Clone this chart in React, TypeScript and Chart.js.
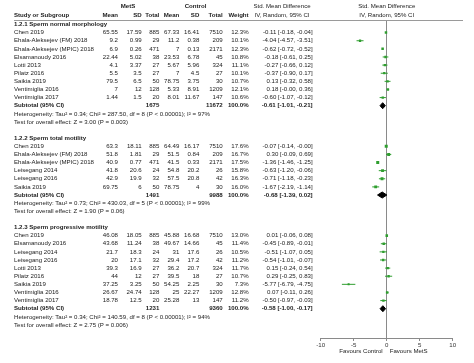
import { useEffect, useRef } from 'react';
import { Chart, registerables } from 'chart.js';

Chart.register(...registerables);

// ---------------- DATA ----------------
const groupTitles = [
  '1.2.1 Sperm normal morphology',
  '1.2.2 Sperm total motility',
  '1.2.3 Sperm progressive motility',
];

// 1.2.1 Sperm normal morphology
const morphStudies = ['Chen 2019', 'Ehala-Aleksejev (FM) 2018', 'Ehala-Aleksejev (MPIC) 2018', 'Elsamanoudy 2016', 'Lotti 2013', 'Pilatz 2016', 'Saikia 2019', 'Ventimiglia 2016', 'Ventimiglia 2017'];
const morphMetsMean = [65.55, 9.2, 6.9, 22.44, 4.1, 5.5, 79.5, 7, 1.44];
const morphMetsSD = [17.59, 0.99, 0.26, 5.02, 3.37, 3.5, 6.5, 12, 1.5];
const morphMetsN = [885, 29, 471, 38, 27, 27, 50, 128, 20];
const morphCtrlMean = [67.33, 11.2, 7, 23.53, 5.67, 7, 78.75, 5.33, 8.01];
const morphCtrlSD = [16.41, 0.38, 0.13, 6.78, 5.96, 4.5, 3.75, 8.91, 11.67];
const morphCtrlN = [7510, 209, 2171, 45, 324, 27, 30, 1209, 147];
const morphWeight = [12.3, 10.1, 12.3, 10.8, 11.1, 10.1, 10.7, 12.1, 10.6];
const morphSmd = [-0.11, -4.04, -0.62, -0.18, -0.27, -0.37, 0.13, 0.18, -0.6];
const morphLo = [-0.18, -4.57, -0.72, -0.61, -0.66, -0.9, -0.32, -0.0, -1.07];
const morphHi = [-0.04, -3.51, -0.52, 0.25, 0.12, 0.17, 0.58, 0.36, -0.12];

// 1.2.2 Sperm total motility
const totStudies = ['Chen 2019', 'Ehala-Aleksejev (FM) 2018', 'Ehala-Aleksejev (MPIC) 2018', 'Leisegang 2014', 'Leisegang 2016', 'Saikia 2019'];
const totMetsMean = [63.3, 51.8, 40.9, 41.8, 42.9, 69.75];
const totMetsSD = [18.11, 1.81, 0.77, 20.6, 19.9, 6];
const totMetsN = [885, 29, 471, 24, 32, 50];
const totCtrlMean = [64.49, 51.5, 41.5, 54.8, 57.5, 78.75];
const totCtrlSD = [16.17, 0.84, 0.33, 20.2, 20.8, 4];
const totCtrlN = [7510, 209, 2171, 26, 42, 30];
const totWeight = [17.6, 16.7, 17.5, 15.8, 16.3, 16.0];
const totSmd = [-0.07, 0.3, -1.36, -0.63, -0.71, -1.67];
const totLo = [-0.14, -0.09, -1.46, -1.2, -1.18, -2.19];
const totHi = [-0.0, 0.69, -1.25, -0.06, -0.23, -1.14];

// 1.2.3 Sperm progressive motility
const progStudies = ['Chen 2019', 'Elsamanoudy 2016', 'Leisegang 2014', 'Leisegang 2016', 'Lotti 2013', 'Pilatz 2016', 'Saikia 2019', 'Ventimiglia 2016', 'Ventimiglia 2017'];
const progMetsMean = [46.08, 43.68, 21.7, 20, 39.3, 44, 37.25, 26.67, 18.78];
const progMetsSD = [18.05, 11.24, 18.3, 17.1, 16.9, 12, 3.25, 24.74, 12.5];
const progMetsN = [885, 38, 24, 32, 27, 27, 50, 128, 20];
const progCtrlMean = [45.88, 49.67, 31, 29.4, 36.2, 39.5, 54.25, 25, 25.28];
const progCtrlSD = [16.68, 14.66, 17.6, 17.2, 20.7, 18, 2.25, 22.27, 13];
const progCtrlN = [7510, 45, 26, 42, 324, 27, 30, 1209, 147];
const progWeight = [13.0, 11.4, 10.5, 11.2, 11.7, 10.7, 7.3, 12.8, 11.2];
const progSmd = [0.01, -0.45, -0.51, -0.54, 0.15, 0.29, -5.77, 0.07, -0.5];
const progLo = [-0.06, -0.89, -1.07, -1.01, -0.24, -0.25, -6.79, -0.11, -0.97];
const progHi = [0.08, -0.01, 0.05, -0.07, 0.54, 0.83, -4.75, 0.26, -0.03];

// Subtotals and statistics per subgroup
const subMetsN = [1675, 1491, 1231];
const subCtrlN = [11672, 9988, 9360];
const subSmd = [-0.61, -0.68, -0.58];
const subLo = [-1.01, -1.39, -1.0];
const subHi = [-0.21, 0.02, -0.17];
const hetTau2 = [0.34, 0.73, 0.34];
const hetChi2 = [287.5, 430.03, 140.59];
const hetDf = [8, 5, 8];
const hetI2 = [97, 99, 94];
const testZ = [3.0, 1.9, 2.75];
const testP = ['0.003', '0.06', '0.006'];

const xMin = -10;
const xMax = 10;
const xStep = 5;

// ---------------- BUILD ----------------
const groups = [
  { studies: morphStudies, mM: morphMetsMean, mS: morphMetsSD, mN: morphMetsN, cM: morphCtrlMean, cS: morphCtrlSD, cN: morphCtrlN, w: morphWeight, e: morphSmd, lo: morphLo, hi: morphHi },
  { studies: totStudies, mM: totMetsMean, mS: totMetsSD, mN: totMetsN, cM: totCtrlMean, cS: totCtrlSD, cN: totCtrlN, w: totWeight, e: totSmd, lo: totLo, hi: totHi },
  { studies: progStudies, mM: progMetsMean, mS: progMetsSD, mN: progMetsN, cM: progCtrlMean, cS: progCtrlSD, cN: progCtrlN, w: progWeight, e: progSmd, lo: progLo, hi: progHi },
];

type Row = { r: number; kind: 'title' | 'study' | 'subtotal' | 'het' | 'test'; g: number; i: number };
const rows: Row[] = [];
{
  let r = 0;
  groups.forEach((grp, g) => {
    rows.push({ r: r++, kind: 'title', g, i: -1 });
    grp.studies.forEach((_, i) => rows.push({ r: r++, kind: 'study', g, i }));
    rows.push({ r: r++, kind: 'subtotal', g, i: -1 });
    rows.push({ r: r++, kind: 'het', g, i: -1 });
    rows.push({ r: r++, kind: 'test', g, i: -1 });
    r++;
  });
}

const fmt = (v: number) => (v < 0 || Object.is(v, -0) ? '-' : '') + Math.abs(v).toFixed(2);
const ciText = (e: number, l: number, h: number) => `${fmt(e)} [${fmt(l)}, ${fmt(h)}]`;

// ---------------- STYLE ----------------
const FONT = '"Liberation Sans", Arial, sans-serif';
const FS = 6.1;
const TEXT = '#222';
const GREEN = '#2f9e2f';
const AXIS = '#8a8a8a';
const DIAMOND_HALF = 0.37; // in row units
const COL = { study: 14, mMean: 118, mSD: 141.7, mN: 159.3, cMean: 179.3, cSD: 199.3, cN: 222.7, weight: 248.6, ci: 312.6, ciHead: 282 };

const textPlugin = {
  id: 'forestText',
  afterDraw(chart: any) {
    const ctx: CanvasRenderingContext2D = chart.ctx;
    const ys = chart.scales.y;
    const xs = chart.scales.x;
    const ca = chart.chartArea;
    const x0 = xs.getPixelForValue(0);
    ctx.save();
    ctx.fillStyle = TEXT;
    ctx.textBaseline = 'middle';
    const put = (s: string, px: number, py: number, align: CanvasTextAlign, bold = false) => {
      ctx.font = `${bold ? 'bold ' : ''}${FS}px ${FONT}`;
      ctx.textAlign = align;
      ctx.fillText(s, px, py);
    };
    const h1 = ca.top - 13.5;
    const h2 = ca.top - 5;
    put('MetS', 128, h1, 'center', true);
    put('Control', 195.5, h1, 'center', true);
    put('Std. Mean Difference', COL.ciHead, h1, 'center');
    put('Std. Mean Difference', x0, h1, 'center');
    put('Study or Subgroup', COL.study, h2, 'left', true);
    put('Mean', COL.mMean, h2, 'right', true);
    put('SD', COL.mSD, h2, 'right', true);
    put('Total', COL.mN, h2, 'right', true);
    put('Mean', COL.cMean, h2, 'right', true);
    put('SD', COL.cSD, h2, 'right', true);
    put('Total', COL.cN, h2, 'right', true);
    put('Weight', COL.weight, h2, 'right', true);
    put('IV, Random, 95% CI', COL.ciHead, h2, 'center');
    put('IV, Random, 95% CI', x0, h2, 'center');

    ctx.strokeStyle = '#9a9a9a';
    ctx.lineWidth = 1.2;
    ctx.beginPath();
    ctx.moveTo(COL.study, ca.top + 0.5);
    ctx.lineTo(463, ca.top + 0.5);
    ctx.stroke();

    rows.forEach((row) => {
      const py = ys.getPixelForValue(row.r);
      const grp = groups[row.g];
      const g = row.g;
      if (row.kind === 'title') {
        put(groupTitles[g], COL.study, py, 'left', true);
      } else if (row.kind === 'study') {
        const i = row.i;
        put(grp.studies[i], COL.study, py, 'left');
        put(String(grp.mM[i]), COL.mMean, py, 'right');
        put(String(grp.mS[i]), COL.mSD, py, 'right');
        put(String(grp.mN[i]), COL.mN, py, 'right');
        put(String(grp.cM[i]), COL.cMean, py, 'right');
        put(String(grp.cS[i]), COL.cSD, py, 'right');
        put(String(grp.cN[i]), COL.cN, py, 'right');
        put(grp.w[i].toFixed(1) + '%', COL.weight, py, 'right');
        put(ciText(grp.e[i], grp.lo[i], grp.hi[i]), COL.ci, py, 'right');
      } else if (row.kind === 'subtotal') {
        put('Subtotal (95% CI)', COL.study, py, 'left', true);
        put(String(subMetsN[g]), COL.mN, py, 'right', true);
        put(String(subCtrlN[g]), COL.cN, py, 'right', true);
        put('100.0%', COL.weight, py, 'right', true);
        put(ciText(subSmd[g], subLo[g], subHi[g]), COL.ci, py, 'right', true);
      } else if (row.kind === 'het') {
        put(`Heterogeneity: Tau² = ${hetTau2[g].toFixed(2)}; Chi² = ${hetChi2[g].toFixed(2)}, df = ${hetDf[g]} (P < 0.00001); I² = ${hetI2[g]}%`, COL.study, py, 'left');
      } else {
        put(`Test for overall effect: Z = ${testZ[g].toFixed(2)} (P = ${testP[g]})`, COL.study, py, 'left');
      }
    });

    const fy = ca.bottom + 13.7;
    put('Favours Control', x0 - 4, fy, 'right');
    put('Favours MetS', x0 + 3, fy, 'left');
    ctx.restore();
  },
};

export default function App() {
  const ref = useRef<HTMLCanvasElement | null>(null);

  useEffect(() => {
    if (!ref.current) return;
    const ciData: any[] = [];
    const sqData: any[] = [];
    const sqRadius: number[] = [];
    const diamonds: any[][] = [];
    rows.forEach((row) => {
      const grp = groups[row.g];
      if (row.kind === 'study') {
        const i = row.i;
        ciData.push({ x: grp.lo[i], y: row.r }, { x: grp.hi[i], y: row.r }, { x: null, y: null });
        sqData.push({ x: grp.e[i], y: row.r });
        sqRadius.push(0.9 + grp.w[i] * 0.07);
      } else if (row.kind === 'subtotal') {
        const g = row.g;
        diamonds.push([
          { x: subLo[g], y: row.r },
          { x: subSmd[g], y: row.r - DIAMOND_HALF },
          { x: subHi[g], y: row.r },
          { x: subSmd[g], y: row.r + DIAMOND_HALF },
          { x: subLo[g], y: row.r },
        ]);
      }
    });

    const rowTop = 24.5;
    const rowStep = 8.12;
    const areaTop = 20;
    const areaBottom = 338;

    const chart = new Chart(ref.current, {
      type: 'line',
      data: {
        datasets: [
          {
            data: ciData,
            borderColor: GREEN,
            borderWidth: 1,
            pointRadius: 0,
            spanGaps: false,
            fill: false,
          } as any,
          {
            data: sqData,
            showLine: false,
            pointStyle: 'rect',
            pointRadius: sqRadius,
            pointBackgroundColor: GREEN,
            pointBorderWidth: 0,
            borderColor: GREEN,
          } as any,
          ...diamonds.map((d) => ({
            data: d,
            borderColor: '#000',
            backgroundColor: '#000',
            borderWidth: 1,
            pointRadius: 0,
            fill: 'shape',
          }) as any),
        ],
      },
      options: {
        animation: false,
        responsive: false,
        maintainAspectRatio: false,
        events: [],
        layout: { padding: { left: 320.7, right: 474 - 452.7, top: areaTop, bottom: 0 } },
        plugins: { legend: { display: false }, tooltip: { enabled: false } },
        scales: {
          x: {
            type: 'linear',
            min: xMin,
            max: xMax,
            ticks: {
              stepSize: xStep,
              padding: 1,
              color: '#333',
              font: { family: FONT, size: FS },
            },
            border: { display: true, color: AXIS, width: 1 },
            grid: {
              drawOnChartArea: true,
              color: (c: any) => (c.tick && c.tick.value === 0 ? AXIS : 'rgba(0,0,0,0)'),
              lineWidth: 1,
              tickColor: AXIS,
              tickLength: 3,
            },
            afterFit: (scale: any) => {
              scale.height = 363 - areaBottom;
            },
          },
          y: {
            type: 'linear',
            display: false,
            reverse: true,
            min: (areaTop - rowTop) / rowStep,
            max: (areaBottom - rowTop) / rowStep,
          },
        },
      },
      plugins: [textPlugin],
    } as any);
    return () => chart.destroy();
  }, []);

  return (
    <div style={{ position: 'absolute', left: 0, top: 0, width: 474, height: 363, background: '#fff' }}>
      <canvas ref={ref} width={474} height={363} style={{ width: 474, height: 363, display: 'block' }} />
    </div>
  );
}
